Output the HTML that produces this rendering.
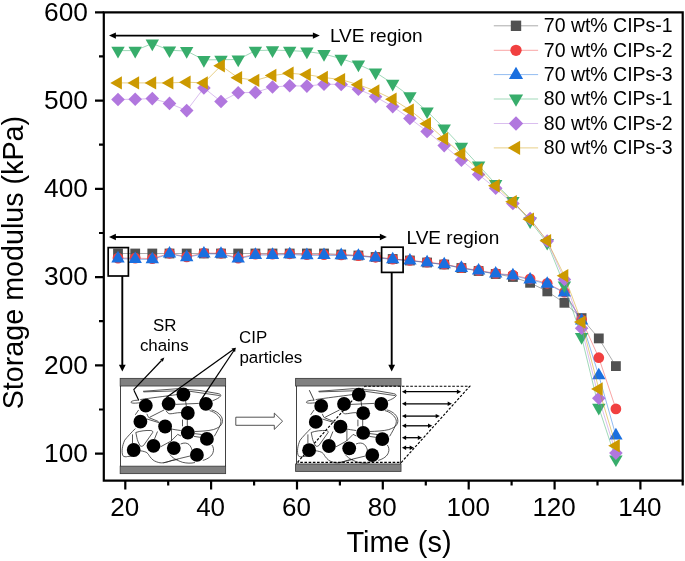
<!DOCTYPE html>
<html lang="en"><head><meta charset="utf-8"><title>Storage modulus vs time</title>
<style>
html,body{margin:0;padding:0;background:#fff;}
body{width:685px;height:561px;overflow:hidden;}
svg{display:block;}
text{font-family:"Liberation Sans",Arial,Helvetica,sans-serif;fill:#000;}
</style></head><body>
<svg width="685" height="561" viewBox="0 0 685 561">
<rect width="685" height="561" fill="#fff"/>

<g stroke="#000" stroke-width="2.2" fill="none" stroke-linecap="butt">
<path d="M103.8 11.200000000000001V481.70000000000005M102.7 480.6H683.8000000000001M682.7 481.70000000000005V11.200000000000001M683.8000000000001 12.3H102.7"/>
<path d="M95 453.6H103.8M95 365.3H103.8M95 277.1H103.8M95 188.8H103.8M95 100.6H103.8M95 12.3H103.8M99 409.5H103.8M99 321.2H103.8M99 233H103.8M99 144.7H103.8M99 56.4H103.8M125.3 480.6V489.4M211.1 480.6V489.4M297 480.6V489.4M382.8 480.6V489.4M468.7 480.6V489.4M554.6 480.6V489.4M640.4 480.6V489.4M168.2 480.6V485.4M254.1 480.6V485.4M339.9 480.6V485.4M425.8 480.6V485.4M511.6 480.6V485.4M597.5 480.6V485.4M682.7 480.6V485.4"/>
</g>
<g font-size="26.3px">
<text x="88" y="461.8" text-anchor="end">100</text>
<text x="88" y="373.5" text-anchor="end">200</text>
<text x="88" y="285.3" text-anchor="end">300</text>
<text x="88" y="197" text-anchor="end">400</text>
<text x="88" y="108.8" text-anchor="end">500</text>
<text x="88" y="20.5" text-anchor="end">600</text>
</g><g font-size="26px">
<text x="124.8" y="516.2" text-anchor="middle">20</text>
<text x="210.6" y="516.2" text-anchor="middle">40</text>
<text x="296.5" y="516.2" text-anchor="middle">60</text>
<text x="382.3" y="516.2" text-anchor="middle">80</text>
<text x="468.2" y="516.2" text-anchor="middle">100</text>
<text x="554.1" y="516.2" text-anchor="middle">120</text>
<text x="639.9" y="516.2" text-anchor="middle">140</text>
</g>
<text transform="translate(399 552.2) scale(1 1.04)" font-size="29px" text-anchor="middle">Time (s)</text>
<text transform="translate(23.1 262.6) rotate(-90) scale(1 1.04)" font-size="28.7px" text-anchor="middle">Storage modulus (kPa)</text>
<g><polyline points="118,253.5 135.2,253.5 152.3,253.5 169.5,253.5 186.7,253.5 203.9,253.5 221,253.5 238.2,253.5 255.4,253.5 272.5,253.5 289.7,253.5 306.9,253.5 324,253.5 341.2,254.5 358.4,255.5 375.6,257 392.7,259 409.9,260.5 427.1,262.5 444.2,264.5 461.4,268 478.6,271 495.7,274 512.9,277 530.1,282.8 547.2,291.4 564.4,302.8 581.6,318.1 598.8,338.4 615.9,366.1" fill="none" stroke="#515151" stroke-width="0.6" stroke-opacity="0.8"/>
<rect x="113.1" y="248.6" width="9.8" height="9.8" fill="#515151"/>
<rect x="130.3" y="248.6" width="9.8" height="9.8" fill="#515151"/>
<rect x="147.4" y="248.6" width="9.8" height="9.8" fill="#515151"/>
<rect x="164.6" y="248.6" width="9.8" height="9.8" fill="#515151"/>
<rect x="181.8" y="248.6" width="9.8" height="9.8" fill="#515151"/>
<rect x="199" y="248.6" width="9.8" height="9.8" fill="#515151"/>
<rect x="216.1" y="248.6" width="9.8" height="9.8" fill="#515151"/>
<rect x="233.3" y="248.6" width="9.8" height="9.8" fill="#515151"/>
<rect x="250.5" y="248.6" width="9.8" height="9.8" fill="#515151"/>
<rect x="267.6" y="248.6" width="9.8" height="9.8" fill="#515151"/>
<rect x="284.8" y="248.6" width="9.8" height="9.8" fill="#515151"/>
<rect x="302" y="248.6" width="9.8" height="9.8" fill="#515151"/>
<rect x="319.1" y="248.6" width="9.8" height="9.8" fill="#515151"/>
<rect x="336.3" y="249.6" width="9.8" height="9.8" fill="#515151"/>
<rect x="353.5" y="250.6" width="9.8" height="9.8" fill="#515151"/>
<rect x="370.7" y="252.1" width="9.8" height="9.8" fill="#515151"/>
<rect x="387.8" y="254.1" width="9.8" height="9.8" fill="#515151"/>
<rect x="405" y="255.6" width="9.8" height="9.8" fill="#515151"/>
<rect x="422.2" y="257.6" width="9.8" height="9.8" fill="#515151"/>
<rect x="439.3" y="259.6" width="9.8" height="9.8" fill="#515151"/>
<rect x="456.5" y="263.1" width="9.8" height="9.8" fill="#515151"/>
<rect x="473.7" y="266.1" width="9.8" height="9.8" fill="#515151"/>
<rect x="490.8" y="269.1" width="9.8" height="9.8" fill="#515151"/>
<rect x="508" y="272.1" width="9.8" height="9.8" fill="#515151"/>
<rect x="525.2" y="277.9" width="9.8" height="9.8" fill="#515151"/>
<rect x="542.4" y="286.5" width="9.8" height="9.8" fill="#515151"/>
<rect x="559.5" y="297.9" width="9.8" height="9.8" fill="#515151"/>
<rect x="576.7" y="313.2" width="9.8" height="9.8" fill="#515151"/>
<rect x="593.9" y="333.5" width="9.8" height="9.8" fill="#515151"/>
<rect x="611" y="361.2" width="9.8" height="9.8" fill="#515151"/>
</g>
<g><polyline points="118,258.1 135.2,258.1 152.3,258.7 169.5,253.3 186.7,256.9 203.9,253 221,253.3 238.2,258.1 255.4,254.2 272.5,254.2 289.7,253.8 306.9,254.6 324,254.6 341.2,255 358.4,255.6 375.6,257.3 392.7,259.1 409.9,260.4 427.1,262.2 444.2,264.1 461.4,267.7 478.6,270.4 495.7,273.4 512.9,275.1 530.1,278.8 547.2,283.3 564.4,292.2 581.6,319.8 598.8,357.7 615.9,408.9" fill="none" stroke="#F14040" stroke-width="0.6" stroke-opacity="0.8"/>
<circle cx="118" cy="258.1" r="5.35" fill="#F14040"/>
<circle cx="135.2" cy="258.1" r="5.35" fill="#F14040"/>
<circle cx="152.3" cy="258.7" r="5.35" fill="#F14040"/>
<circle cx="169.5" cy="253.3" r="5.35" fill="#F14040"/>
<circle cx="186.7" cy="256.9" r="5.35" fill="#F14040"/>
<circle cx="203.9" cy="253" r="5.35" fill="#F14040"/>
<circle cx="221" cy="253.3" r="5.35" fill="#F14040"/>
<circle cx="238.2" cy="258.1" r="5.35" fill="#F14040"/>
<circle cx="255.4" cy="254.2" r="5.35" fill="#F14040"/>
<circle cx="272.5" cy="254.2" r="5.35" fill="#F14040"/>
<circle cx="289.7" cy="253.8" r="5.35" fill="#F14040"/>
<circle cx="306.9" cy="254.6" r="5.35" fill="#F14040"/>
<circle cx="324" cy="254.6" r="5.35" fill="#F14040"/>
<circle cx="341.2" cy="255" r="5.35" fill="#F14040"/>
<circle cx="358.4" cy="255.6" r="5.35" fill="#F14040"/>
<circle cx="375.6" cy="257.3" r="5.35" fill="#F14040"/>
<circle cx="392.7" cy="259.1" r="5.35" fill="#F14040"/>
<circle cx="409.9" cy="260.4" r="5.35" fill="#F14040"/>
<circle cx="427.1" cy="262.2" r="5.35" fill="#F14040"/>
<circle cx="444.2" cy="264.1" r="5.35" fill="#F14040"/>
<circle cx="461.4" cy="267.7" r="5.35" fill="#F14040"/>
<circle cx="478.6" cy="270.4" r="5.35" fill="#F14040"/>
<circle cx="495.7" cy="273.4" r="5.35" fill="#F14040"/>
<circle cx="512.9" cy="275.1" r="5.35" fill="#F14040"/>
<circle cx="530.1" cy="278.8" r="5.35" fill="#F14040"/>
<circle cx="547.2" cy="283.3" r="5.35" fill="#F14040"/>
<circle cx="564.4" cy="292.2" r="5.35" fill="#F14040"/>
<circle cx="581.6" cy="319.8" r="5.35" fill="#F14040"/>
<circle cx="598.8" cy="357.7" r="5.35" fill="#F14040"/>
<circle cx="615.9" cy="408.9" r="5.35" fill="#F14040"/>
</g>
<g><polyline points="118,258.6 135.2,259.2 152.3,259.5 169.5,253.8 186.7,257.4 203.9,253.8 221,254 238.2,258.6 255.4,255.1 272.5,255.1 289.7,254.5 306.9,255.4 324,255.3 341.2,255.4 358.4,256 375.6,257.7 392.7,259.5 409.9,260.8 427.1,262.6 444.2,264.5 461.4,268.1 478.6,270.8 495.7,273.8 512.9,275.6 530.1,279.7 547.2,284 564.4,292.7 581.6,320.8 598.8,375.5 615.9,435.6" fill="none" stroke="#1A6FDF" stroke-width="0.6" stroke-opacity="0.8"/>
<path d="M111.3 262.4L124.7 262.4L118 250.8Z" fill="#1A6FDF"/>
<path d="M128.5 263L141.9 263L135.2 251.4Z" fill="#1A6FDF"/>
<path d="M145.6 263.3L159 263.3L152.3 251.7Z" fill="#1A6FDF"/>
<path d="M162.8 257.6L176.2 257.6L169.5 246Z" fill="#1A6FDF"/>
<path d="M180 261.2L193.4 261.2L186.7 249.6Z" fill="#1A6FDF"/>
<path d="M197.2 257.6L210.6 257.6L203.9 246Z" fill="#1A6FDF"/>
<path d="M214.3 257.8L227.7 257.8L221 246.2Z" fill="#1A6FDF"/>
<path d="M231.5 262.4L244.9 262.4L238.2 250.8Z" fill="#1A6FDF"/>
<path d="M248.7 258.9L262.1 258.9L255.4 247.3Z" fill="#1A6FDF"/>
<path d="M265.8 258.9L279.2 258.9L272.5 247.3Z" fill="#1A6FDF"/>
<path d="M283 258.3L296.4 258.3L289.7 246.7Z" fill="#1A6FDF"/>
<path d="M300.2 259.2L313.6 259.2L306.9 247.6Z" fill="#1A6FDF"/>
<path d="M317.3 259.1L330.7 259.1L324 247.5Z" fill="#1A6FDF"/>
<path d="M334.5 259.2L347.9 259.2L341.2 247.6Z" fill="#1A6FDF"/>
<path d="M351.7 259.8L365.1 259.8L358.4 248.2Z" fill="#1A6FDF"/>
<path d="M368.9 261.5L382.2 261.5L375.6 249.9Z" fill="#1A6FDF"/>
<path d="M386 263.3L399.4 263.3L392.7 251.7Z" fill="#1A6FDF"/>
<path d="M403.2 264.6L416.6 264.6L409.9 253Z" fill="#1A6FDF"/>
<path d="M420.4 266.4L433.8 266.4L427.1 254.8Z" fill="#1A6FDF"/>
<path d="M437.5 268.3L450.9 268.3L444.2 256.7Z" fill="#1A6FDF"/>
<path d="M454.7 271.9L468.1 271.9L461.4 260.3Z" fill="#1A6FDF"/>
<path d="M471.9 274.6L485.3 274.6L478.6 263Z" fill="#1A6FDF"/>
<path d="M489 277.6L502.4 277.6L495.7 266Z" fill="#1A6FDF"/>
<path d="M506.2 279.4L519.6 279.4L512.9 267.8Z" fill="#1A6FDF"/>
<path d="M523.4 283.5L536.8 283.5L530.1 271.9Z" fill="#1A6FDF"/>
<path d="M540.5 287.8L554 287.8L547.2 276.2Z" fill="#1A6FDF"/>
<path d="M557.7 296.5L571.1 296.5L564.4 284.9Z" fill="#1A6FDF"/>
<path d="M574.9 324.6L588.3 324.6L581.6 313Z" fill="#1A6FDF"/>
<path d="M592.1 379.3L605.5 379.3L598.8 367.7Z" fill="#1A6FDF"/>
<path d="M609.2 439.4L622.6 439.4L615.9 427.8Z" fill="#1A6FDF"/>
</g>
<g><polyline points="118,50.6 135.2,50.6 152.3,43.5 169.5,50.3 186.7,51 203.9,59.9 221,59.7 238.2,59.5 255.4,50.6 272.5,50.1 289.7,50.6 306.9,51.5 324,54 341.2,58.7 358.4,64.4 375.6,72.4 392.7,83.6 409.9,96.2 427.1,111.3 444.2,128.3 461.4,146.6 478.6,165.3 495.7,184 512.9,200.9 530.1,221.1 547.2,242.8 564.4,285.3 581.6,337 598.8,407.6 615.9,459.3" fill="none" stroke="#37AD6B" stroke-width="0.6" stroke-opacity="0.8"/>
<path d="M111.3 46.7L124.7 46.7L118 58.4Z" fill="#37AD6B"/>
<path d="M128.5 46.7L141.9 46.7L135.2 58.4Z" fill="#37AD6B"/>
<path d="M145.6 39.6L159 39.6L152.3 51.3Z" fill="#37AD6B"/>
<path d="M162.8 46.4L176.2 46.4L169.5 58.1Z" fill="#37AD6B"/>
<path d="M180 47.1L193.4 47.1L186.7 58.8Z" fill="#37AD6B"/>
<path d="M197.2 56L210.6 56L203.9 67.7Z" fill="#37AD6B"/>
<path d="M214.3 55.8L227.7 55.8L221 67.5Z" fill="#37AD6B"/>
<path d="M231.5 55.6L244.9 55.6L238.2 67.3Z" fill="#37AD6B"/>
<path d="M248.7 46.7L262.1 46.7L255.4 58.4Z" fill="#37AD6B"/>
<path d="M265.8 46.2L279.2 46.2L272.5 57.9Z" fill="#37AD6B"/>
<path d="M283 46.7L296.4 46.7L289.7 58.4Z" fill="#37AD6B"/>
<path d="M300.2 47.6L313.6 47.6L306.9 59.3Z" fill="#37AD6B"/>
<path d="M317.3 50.1L330.7 50.1L324 61.8Z" fill="#37AD6B"/>
<path d="M334.5 54.8L347.9 54.8L341.2 66.5Z" fill="#37AD6B"/>
<path d="M351.7 60.5L365.1 60.5L358.4 72.2Z" fill="#37AD6B"/>
<path d="M368.9 68.5L382.2 68.5L375.6 80.2Z" fill="#37AD6B"/>
<path d="M386 79.7L399.4 79.7L392.7 91.4Z" fill="#37AD6B"/>
<path d="M403.2 92.3L416.6 92.3L409.9 104Z" fill="#37AD6B"/>
<path d="M420.4 107.4L433.8 107.4L427.1 119.1Z" fill="#37AD6B"/>
<path d="M437.5 124.4L450.9 124.4L444.2 136.1Z" fill="#37AD6B"/>
<path d="M454.7 142.7L468.1 142.7L461.4 154.4Z" fill="#37AD6B"/>
<path d="M471.9 161.4L485.3 161.4L478.6 173.1Z" fill="#37AD6B"/>
<path d="M489 180.1L502.4 180.1L495.7 191.8Z" fill="#37AD6B"/>
<path d="M506.2 197L519.6 197L512.9 208.7Z" fill="#37AD6B"/>
<path d="M523.4 217.2L536.8 217.2L530.1 228.9Z" fill="#37AD6B"/>
<path d="M540.5 238.9L554 238.9L547.2 250.6Z" fill="#37AD6B"/>
<path d="M557.7 281.4L571.1 281.4L564.4 293.1Z" fill="#37AD6B"/>
<path d="M574.9 333.1L588.3 333.1L581.6 344.8Z" fill="#37AD6B"/>
<path d="M592.1 403.7L605.5 403.7L598.8 415.4Z" fill="#37AD6B"/>
<path d="M609.2 455.4L622.6 455.4L615.9 467.1Z" fill="#37AD6B"/>
</g>
<g><polyline points="118,99.5 135.2,99.2 152.3,98.6 169.5,103.4 186.7,110.6 203.9,87.9 221,101.5 238.2,92.7 255.4,92.4 272.5,87 289.7,85.8 306.9,86.1 324,84.2 341.2,84.4 358.4,89.2 375.6,96.8 392.7,106.6 409.9,118.4 427.1,131.4 444.2,145.6 461.4,160.2 478.6,174.5 495.7,188.3 512.9,203.5 530.1,218.6 547.2,241 564.4,279.4 581.6,328.3 598.8,398.2 615.9,453.1" fill="none" stroke="#B177DE" stroke-width="0.6" stroke-opacity="0.8"/>
<path d="M111.2 99.5L118 92.7L124.8 99.5L118 106.3Z" fill="#B177DE"/>
<path d="M128.4 99.2L135.2 92.4L142 99.2L135.2 106Z" fill="#B177DE"/>
<path d="M145.5 98.6L152.3 91.8L159.1 98.6L152.3 105.4Z" fill="#B177DE"/>
<path d="M162.7 103.4L169.5 96.6L176.3 103.4L169.5 110.2Z" fill="#B177DE"/>
<path d="M179.9 110.6L186.7 103.8L193.5 110.6L186.7 117.4Z" fill="#B177DE"/>
<path d="M197.1 87.9L203.9 81.1L210.7 87.9L203.9 94.7Z" fill="#B177DE"/>
<path d="M214.2 101.5L221 94.7L227.8 101.5L221 108.3Z" fill="#B177DE"/>
<path d="M231.4 92.7L238.2 85.9L245 92.7L238.2 99.5Z" fill="#B177DE"/>
<path d="M248.6 92.4L255.4 85.6L262.2 92.4L255.4 99.2Z" fill="#B177DE"/>
<path d="M265.7 87L272.5 80.2L279.3 87L272.5 93.8Z" fill="#B177DE"/>
<path d="M282.9 85.8L289.7 79L296.5 85.8L289.7 92.6Z" fill="#B177DE"/>
<path d="M300.1 86.1L306.9 79.3L313.7 86.1L306.9 92.9Z" fill="#B177DE"/>
<path d="M317.2 84.2L324 77.4L330.8 84.2L324 91Z" fill="#B177DE"/>
<path d="M334.4 84.4L341.2 77.6L348 84.4L341.2 91.2Z" fill="#B177DE"/>
<path d="M351.6 89.2L358.4 82.4L365.2 89.2L358.4 96Z" fill="#B177DE"/>
<path d="M368.8 96.8L375.6 90L382.4 96.8L375.6 103.6Z" fill="#B177DE"/>
<path d="M385.9 106.6L392.7 99.8L399.5 106.6L392.7 113.4Z" fill="#B177DE"/>
<path d="M403.1 118.4L409.9 111.6L416.7 118.4L409.9 125.2Z" fill="#B177DE"/>
<path d="M420.3 131.4L427.1 124.6L433.9 131.4L427.1 138.2Z" fill="#B177DE"/>
<path d="M437.4 145.6L444.2 138.8L451 145.6L444.2 152.4Z" fill="#B177DE"/>
<path d="M454.6 160.2L461.4 153.4L468.2 160.2L461.4 167Z" fill="#B177DE"/>
<path d="M471.8 174.5L478.6 167.7L485.4 174.5L478.6 181.3Z" fill="#B177DE"/>
<path d="M488.9 188.3L495.7 181.5L502.5 188.3L495.7 195.1Z" fill="#B177DE"/>
<path d="M506.1 203.5L512.9 196.7L519.7 203.5L512.9 210.3Z" fill="#B177DE"/>
<path d="M523.3 218.6L530.1 211.8L536.9 218.6L530.1 225.4Z" fill="#B177DE"/>
<path d="M540.5 241L547.2 234.2L554 241L547.2 247.8Z" fill="#B177DE"/>
<path d="M557.6 279.4L564.4 272.6L571.2 279.4L564.4 286.2Z" fill="#B177DE"/>
<path d="M574.8 328.3L581.6 321.5L588.4 328.3L581.6 335.1Z" fill="#B177DE"/>
<path d="M592 398.2L598.8 391.4L605.6 398.2L598.8 405Z" fill="#B177DE"/>
<path d="M609.1 453.1L615.9 446.3L622.7 453.1L615.9 459.9Z" fill="#B177DE"/>
</g>
<g><polyline points="118,82.9 135.2,82.9 152.3,82.9 169.5,82.9 186.7,82.2 203.9,82.9 221,65.7 238.2,77.8 255.4,80.4 272.5,75.5 289.7,73.3 306.9,74.6 324,77.5 341.2,79.6 358.4,84.7 375.6,91 392.7,99.2 409.9,110.1 427.1,123.7 444.2,138.8 461.4,154 478.6,169.5 495.7,185.7 512.9,201.7 530.1,219.2 547.2,240.8 564.4,275.8 581.6,322.1 598.8,389 615.9,445.8" fill="none" stroke="#CC9900" stroke-width="0.6" stroke-opacity="0.8"/>
<path d="M121.9 76.2L121.9 89.6L110.3 82.9Z" fill="#CC9900"/>
<path d="M139.1 76.2L139.1 89.6L127.5 82.9Z" fill="#CC9900"/>
<path d="M156.2 76.2L156.2 89.6L144.6 82.9Z" fill="#CC9900"/>
<path d="M173.4 76.2L173.4 89.6L161.8 82.9Z" fill="#CC9900"/>
<path d="M190.6 75.5L190.6 88.9L179 82.2Z" fill="#CC9900"/>
<path d="M207.8 76.2L207.8 89.6L196.2 82.9Z" fill="#CC9900"/>
<path d="M224.9 59L224.9 72.4L213.3 65.7Z" fill="#CC9900"/>
<path d="M242.1 71.1L242.1 84.5L230.5 77.8Z" fill="#CC9900"/>
<path d="M259.3 73.7L259.3 87.1L247.7 80.4Z" fill="#CC9900"/>
<path d="M276.4 68.8L276.4 82.2L264.8 75.5Z" fill="#CC9900"/>
<path d="M293.6 66.6L293.6 80L282 73.3Z" fill="#CC9900"/>
<path d="M310.8 67.9L310.8 81.3L299.2 74.6Z" fill="#CC9900"/>
<path d="M327.9 70.8L327.9 84.2L316.3 77.5Z" fill="#CC9900"/>
<path d="M345.1 72.9L345.1 86.3L333.5 79.6Z" fill="#CC9900"/>
<path d="M362.3 78L362.3 91.4L350.7 84.7Z" fill="#CC9900"/>
<path d="M379.4 84.3L379.4 97.7L367.9 91Z" fill="#CC9900"/>
<path d="M396.6 92.5L396.6 105.9L385 99.2Z" fill="#CC9900"/>
<path d="M413.8 103.4L413.8 116.8L402.2 110.1Z" fill="#CC9900"/>
<path d="M431 117L431 130.4L419.4 123.7Z" fill="#CC9900"/>
<path d="M448.1 132.1L448.1 145.5L436.5 138.8Z" fill="#CC9900"/>
<path d="M465.3 147.3L465.3 160.7L453.7 154Z" fill="#CC9900"/>
<path d="M482.5 162.8L482.5 176.2L470.9 169.5Z" fill="#CC9900"/>
<path d="M499.6 179L499.6 192.4L488 185.7Z" fill="#CC9900"/>
<path d="M516.8 195L516.8 208.4L505.2 201.7Z" fill="#CC9900"/>
<path d="M534 212.5L534 225.9L522.4 219.2Z" fill="#CC9900"/>
<path d="M551.1 234.1L551.1 247.5L539.5 240.8Z" fill="#CC9900"/>
<path d="M568.3 269.1L568.3 282.5L556.7 275.8Z" fill="#CC9900"/>
<path d="M585.5 315.4L585.5 328.8L573.9 322.1Z" fill="#CC9900"/>
<path d="M602.7 382.3L602.7 395.7L591.1 389Z" fill="#CC9900"/>
<path d="M619.8 439.1L619.8 452.5L608.2 445.8Z" fill="#CC9900"/>
</g>
<g font-size="19.5px">
<path d="M493.8 25.8H538.1" stroke="#515151" stroke-width="0.6" stroke-opacity="0.8" fill="none"/>
<g transform="translate(516 25.8) scale(1.06)"><rect x="-4.9" y="-4.9" width="9.8" height="9.8" fill="#515151"/></g>
<text transform="translate(543.8 32.1) scale(1 1.04)">70 wt% CIPs-1</text>
<path d="M493.8 50.3H538.1" stroke="#F14040" stroke-width="0.6" stroke-opacity="0.8" fill="none"/>
<g transform="translate(516 50.3) scale(1.06)"><circle cx="0" cy="0" r="5.35" fill="#F14040"/></g>
<text transform="translate(543.8 56.6) scale(1 1.04)">70 wt% CIPs-2</text>
<path d="M493.8 74.6H538.1" stroke="#1A6FDF" stroke-width="0.6" stroke-opacity="0.8" fill="none"/>
<g transform="translate(516 75) scale(1.06)"><path d="M-6.7 3.8L6.7 3.8L0 -7.8Z" fill="#1A6FDF"/></g>
<text transform="translate(543.8 80.9) scale(1 1.04)">70 wt% CIPs-3</text>
<path d="M493.8 99.0H538.1" stroke="#37AD6B" stroke-width="0.6" stroke-opacity="0.8" fill="none"/>
<g transform="translate(516 98.6) scale(1.06)"><path d="M-6.7 -3.9L6.7 -3.9L0 7.8Z" fill="#37AD6B"/></g>
<text transform="translate(543.8 105.3) scale(1 1.04)">80 wt% CIPs-1</text>
<path d="M493.8 123.5H538.1" stroke="#B177DE" stroke-width="0.6" stroke-opacity="0.8" fill="none"/>
<g transform="translate(516 123.5) scale(1.06)"><path d="M-6.8 0L0 -6.8L6.8 0L0 6.8Z" fill="#B177DE"/></g>
<text transform="translate(543.8 129.8) scale(1 1.04)">80 wt% CIPs-2</text>
<path d="M493.8 147.9H538.1" stroke="#CC9900" stroke-width="0.6" stroke-opacity="0.8" fill="none"/>
<g transform="translate(516 147.9) scale(1.06)"><path d="M3.9 -6.7L3.9 6.7L-7.7 0Z" fill="#CC9900"/></g>
<text transform="translate(543.8 154.2) scale(1 1.04)">80 wt% CIPs-3</text>
</g>
<path d="M114.9 35.6H313.9" stroke="#000" stroke-width="1.9" fill="none"/><path d="M109 35.6L115.9 32.4L115.9 38.8Z" fill="#000"/><path d="M319.8 35.6L312.9 32.4L312.9 38.8Z" fill="#000"/>
<path d="M114.9 237.0H380.9" stroke="#000" stroke-width="1.9" fill="none"/><path d="M109 237.0L115.9 233.8L115.9 240.2Z" fill="#000"/><path d="M386.8 237.0L379.9 233.8L379.9 240.2Z" fill="#000"/>
<g font-size="19.05px"><text x="329.9" y="42.4">LVE region</text><text x="406.5" y="243.7">LVE region</text></g>
<g stroke="#000" fill="none">
<rect x="108.2" y="247.6" width="20.2" height="28.4" stroke-width="1.7"/>
<rect x="381.6" y="247.2" width="21.5" height="25.2" stroke-width="1.7"/>
<path d="M122.3 276V365.5M391.7 272.4V365.5" stroke-width="1.9"/>
</g>
<path d="M122.3 371.4L118.9 364.8L125.7 364.8ZM391.7 371.4L388.3 364.8L395.1 364.8Z" fill="#000"/>
<rect x="120.2" y="378.4" width="105.4" height="7.6" fill="#808080" stroke="#404040" stroke-width="0.9"/><rect x="120.2" y="466.2" width="105.4" height="7.4" fill="#808080" stroke="#404040" stroke-width="0.9"/><path d="M120.5 386V466.2M225.5 386V466.2" stroke="#111" stroke-width="0.8" fill="none"/><path transform="translate(0 0)" d="M138.7 400.3C135 400 131 401 131 402.2C131 403.6 136 403.2 140.5 402.7M140.2 399.6C150 398 165 396.3 177.7 394.5M143 391.3L177.7 388.7L200 390.5L218.2 393.6C220.3 394 221.2 395 220.6 396C219.5 397.8 216 399.5 212.4 400.8M143.5 391.9L178 390.8L190 391.3L219.8 395.6M138.7 409.9L135.3 414.8M146.9 413.8C147.5 415.5 148 416.5 148.8 417.6L158.5 421.5M149.8 417.2L164.2 409.9M166.2 410.9C167.5 413 168.8 413.8 170 413.8C173 413.8 176 412.6 181 412.6M175.4 404.4L198.8 403.4M185.6 401L186.4 406.4M182.5 419.6V426.3M187.3 419.8V426.3M211.4 409.9C216 411 220.5 414 222 418C223.5 423 221.5 427 213.4 429.6C208 431 200 431.3 194.5 431.5M209.5 410.6C215 412 219.5 416 220.8 420C221.5 424 219 428 214.3 436.3M194.5 433.6L201.8 434.5M194 436.4L200.8 437.4M211.9 445C213.5 447 214 450 213 452.5C212 456 208 459 202.8 460.4M180.6 444C184 442.5 187 442.8 189 444.5C191 446.5 191.5 448.5 192 450M163.3 462.8C167 462 172 460.5 179.6 458.5L190 456M170 454.6C172 457.5 176 460 182.5 462.3C187 463.3 191 463.5 195 462.5M180.8 430.5C177 430 173 429.5 170 428.6L164 427M171.5 429V441M135.3 428.6C132 432 127 437 124.7 440.2C122 446 121.5 452 122.8 455.6C124 457 126 457 127.6 456.5L137.3 455.6M135.8 432.5C140 431 146 430.2 150.8 430.5C152.5 430.7 153 431.5 152.7 432.5L143.5 445.5C142 446.5 141 446.5 140.2 445.9C138.5 443 137.2 440 136.8 437.3ZM132.5 434.4V443.5M157.5 431.5L154.5 439M160.4 446.9L171 441.1L177.7 434.4L181 436M140.2 450.8C143 451 146 452 146.9 452.7C148.5 454 149 455.5 149.8 456.5C152 459.5 154 461 156.5 461.8C159 462.8 161 463 163.3 462.8C166 462.5 169 461.5 172 460.4L177.7 459.4M146.9 419L159.4 422.8" stroke="#202020" stroke-width="0.75" fill="none"/><path transform="translate(0 0)" d="M133.9 390.2L138.7 400.3" stroke="#000" stroke-width="1.2" fill="none"/><circle cx="145.8" cy="405.7" r="6.9" fill="#000"/><circle cx="168.6" cy="403.8" r="6.9" fill="#000"/><circle cx="183.4" cy="394.5" r="6.9" fill="#000"/><circle cx="205.9" cy="403.8" r="6.9" fill="#000"/><circle cx="187.8" cy="413" r="6.9" fill="#000"/><circle cx="140.4" cy="421.7" r="6.9" fill="#000"/><circle cx="165.1" cy="426.5" r="6.9" fill="#000"/><circle cx="187.8" cy="432.7" r="6.9" fill="#000"/><circle cx="206.9" cy="438.9" r="6.9" fill="#000"/><circle cx="133.7" cy="450" r="6.9" fill="#000"/><circle cx="153.5" cy="445.8" r="6.9" fill="#000"/><circle cx="173.8" cy="448.1" r="6.9" fill="#000"/><circle cx="196.9" cy="454.9" r="6.9" fill="#000"/>
<rect x="295.6" y="378.4" width="105.4" height="7.6" fill="#808080" stroke="#404040" stroke-width="0.9"/><rect x="295.6" y="464" width="105.4" height="7.4" fill="#808080" stroke="#404040" stroke-width="0.9"/><path d="M296.5 386V464M400.5 386V464" stroke="#111" stroke-width="0.8" fill="none"/><path transform="translate(175.4 0)" d="M138.7 400.3C135 400 131 401 131 402.2C131 403.6 136 403.2 140.5 402.7M140.2 399.6C150 398 165 396.3 177.7 394.5M143 391.3L177.7 388.7L200 390.5L218.2 393.6C220.3 394 221.2 395 220.6 396C219.5 397.8 216 399.5 212.4 400.8M143.5 391.9L178 390.8L190 391.3L219.8 395.6M138.7 409.9L135.3 414.8M146.9 413.8C147.5 415.5 148 416.5 148.8 417.6L158.5 421.5M149.8 417.2L164.2 409.9M166.2 410.9C167.5 413 168.8 413.8 170 413.8C173 413.8 176 412.6 181 412.6M175.4 404.4L198.8 403.4M185.6 401L186.4 406.4M182.5 419.6V426.3M187.3 419.8V426.3M211.4 409.9C216 411 220.5 414 222 418C223.5 423 221.5 427 213.4 429.6C208 431 200 431.3 194.5 431.5M209.5 410.6C215 412 219.5 416 220.8 420C221.5 424 219 428 214.3 436.3M194.5 433.6L201.8 434.5M194 436.4L200.8 437.4M211.9 445C213.5 447 214 450 213 452.5C212 456 208 459 202.8 460.4M180.6 444C184 442.5 187 442.8 189 444.5C191 446.5 191.5 448.5 192 450M163.3 462.8C167 462 172 460.5 179.6 458.5L190 456M170 454.6C172 457.5 176 460 182.5 462.3C187 463.3 191 463.5 195 462.5M180.8 430.5C177 430 173 429.5 170 428.6L164 427M171.5 429V441M135.3 428.6C132 432 127 437 124.7 440.2C122 446 121.5 452 122.8 455.6C124 457 126 457 127.6 456.5L137.3 455.6M135.8 432.5C140 431 146 430.2 150.8 430.5C152.5 430.7 153 431.5 152.7 432.5L143.5 445.5C142 446.5 141 446.5 140.2 445.9C138.5 443 137.2 440 136.8 437.3ZM132.5 434.4V443.5M157.5 431.5L154.5 439M160.4 446.9L171 441.1L177.7 434.4L181 436M140.2 450.8C143 451 146 452 146.9 452.7C148.5 454 149 455.5 149.8 456.5C152 459.5 154 461 156.5 461.8C159 462.8 161 463 163.3 462.8C166 462.5 169 461.5 172 460.4L177.7 459.4M146.9 419L159.4 422.8" stroke="#202020" stroke-width="0.75" fill="none"/><path transform="translate(175.4 0)" d="M133.9 390.2L138.7 400.3" stroke="#000" stroke-width="0.75" fill="none"/><circle cx="321.2" cy="405.9" r="6.9" fill="#000"/><circle cx="344" cy="404" r="6.9" fill="#000"/><circle cx="358.8" cy="394.7" r="6.9" fill="#000"/><circle cx="381.3" cy="404" r="6.9" fill="#000"/><circle cx="363.2" cy="413.2" r="6.9" fill="#000"/><circle cx="315.8" cy="421.9" r="6.9" fill="#000"/><circle cx="340.5" cy="426.7" r="6.9" fill="#000"/><circle cx="363.2" cy="432.9" r="6.9" fill="#000"/><circle cx="382.3" cy="439.1" r="6.9" fill="#000"/><circle cx="309.1" cy="450.2" r="6.9" fill="#000"/><circle cx="328.9" cy="446" r="6.9" fill="#000"/><circle cx="349.2" cy="448.3" r="6.9" fill="#000"/><circle cx="372.3" cy="455.1" r="6.9" fill="#000"/>
<g stroke="#000" stroke-width="1.15" fill="none" stroke-dasharray="2.6 1.6">
<path d="M297.5 462.3L365 386.2H469.8L401.4 462.3H297.5"/>
</g>
<path d="M405.1 391.7H457.9" stroke="#000" stroke-width="1.3" fill="none"/><path d="M401.9 391.7L406.1 389.5L406.1 393.9Z" fill="#000"/><path d="M461.1 391.7L456.9 389.5L456.9 393.9Z" fill="#000"/>
<path d="M405.1 403.8H448.7" stroke="#000" stroke-width="1.3" fill="none"/><path d="M401.9 403.8L406.1 401.6L406.1 406Z" fill="#000"/><path d="M451.9 403.8L447.7 401.6L447.7 406Z" fill="#000"/>
<path d="M405.1 416.1H436.7" stroke="#000" stroke-width="1.3" fill="none"/><path d="M401.9 416.1L406.1 413.9L406.1 418.3Z" fill="#000"/><path d="M439.9 416.1L435.7 413.9L435.7 418.3Z" fill="#000"/>
<path d="M405.1 425.8H429" stroke="#000" stroke-width="1.3" fill="none"/><path d="M401.9 425.8L406.1 423.6L406.1 428Z" fill="#000"/><path d="M432.2 425.8L428 423.6L428 428Z" fill="#000"/>
<path d="M405.1 437.7H418.8" stroke="#000" stroke-width="1.3" fill="none"/><path d="M401.9 437.7L406.1 435.5L406.1 439.9Z" fill="#000"/><path d="M422 437.7L417.8 435.5L417.8 439.9Z" fill="#000"/>
<path d="M405.1 447.7H410.7" stroke="#000" stroke-width="1.3" fill="none"/><path d="M401.9 447.7L406.1 445.5L406.1 449.9Z" fill="#000"/><path d="M413.9 447.7L409.7 445.5L409.7 449.9Z" fill="#000"/>
<path d="M235.8 417.2H274.3V413.1L282.6 421.2L274.3 429.4V425.3H235.8Z" fill="#fff" stroke="#404040" stroke-width="0.9"/>
<g font-size="16.9px">
<text x="164.8" y="331.1" text-anchor="middle">SR</text><text x="164.3" y="350.6" text-anchor="middle">chains</text>
<text x="239.0" y="343.4">CIP</text><text x="239.4" y="362.7">particles</text>
</g>
<path d="M133.5 389.9L161.5 360.5" stroke="#000" stroke-width="1.25" fill="none"/><path d="M164.3 357.6L162.8 361.7L160.2 359.3Z" fill="#000"/>
<path d="M166.3 397.6L232.6 350" stroke="#000" stroke-width="1.25" fill="none"/><path d="M235.8 347.7L233.6 351.5L231.5 348.6Z" fill="#000"/>
<path d="M200.5 400.7L233.6 351" stroke="#000" stroke-width="1.25" fill="none"/><path d="M235.8 347.7L235.1 352L232.1 350Z" fill="#000"/>
</svg></body></html>
